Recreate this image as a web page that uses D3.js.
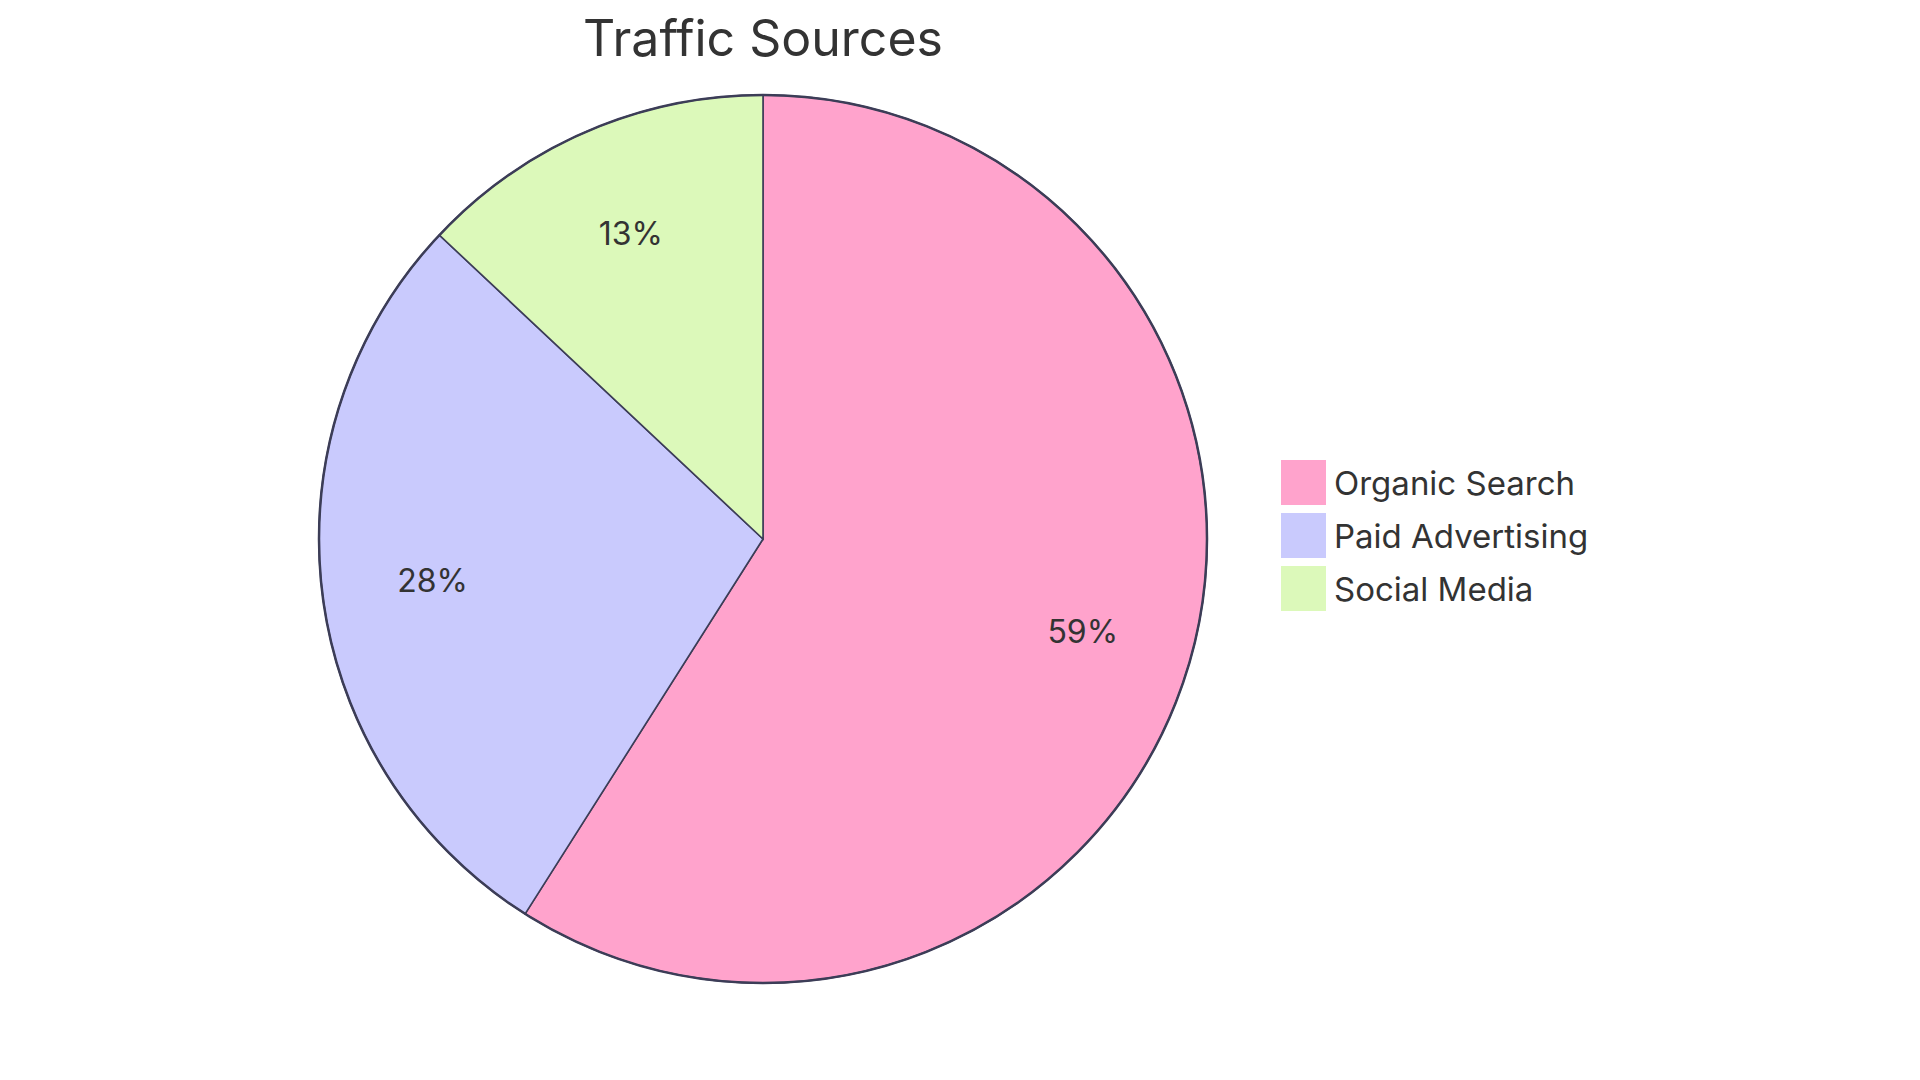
<!DOCTYPE html><html><head><meta charset="utf-8"><script src="https://cdn.jsdelivr.net/npm/d3@7"></script>
<style>body{margin:0;background:#fff}text{font-family:Inter,"Open Sans",sans-serif;fill:#333}</style></head><body>
<svg id="c" width="1920" height="1080"></svg>
<script>
const categories=["Organic Search","Paid Advertising","Social Media"];
const values=[59,28,13];
const colors=["#ffa3cc","#c9cafd","#dcf9ba"];
const svg=d3.select("#c");
const cx=763,cy=539,r=444;
const pie=d3.pie().sort(null).value(d=>d)(values);
const arc=d3.arc().innerRadius(0).outerRadius(r);
const la=d3.arc().innerRadius(r*0.75).outerRadius(r*0.75);
const g=svg.append("g").attr("transform",`translate(${cx},${cy})`);
g.selectAll("path").data(pie).join("path").attr("d",arc).attr("fill",(d,i)=>colors[i]).attr("stroke","#3c3d57").attr("stroke-width",1.6);
g.append("circle").attr("r",r).attr("fill","none").attr("stroke","#3c3d57").attr("stroke-width",2.5);
g.selectAll("text.l").data(pie).join("text").attr("class","l").attr("transform",d=>`translate(${la.centroid(d)})`)
 .attr("text-anchor","middle").attr("dy","0.35em").style("font-size","32px").text(d=>d.data+"%");
svg.append("text").attr("x",cx).attr("y",56).attr("text-anchor","middle").style("font-size","50px").text("Traffic Sources");
const lg=svg.append("g").attr("transform","translate(1281,460)");
const it=lg.selectAll("g").data(categories).join("g").attr("transform",(d,i)=>`translate(0,${i*53})`);
it.append("rect").attr("width",45).attr("height",45).attr("fill",(d,i)=>colors[i]);
it.append("text").attr("x",53).attr("y",23).attr("dy","0.35em").style("font-size","33px").text(d=>d);
</script></body></html>
